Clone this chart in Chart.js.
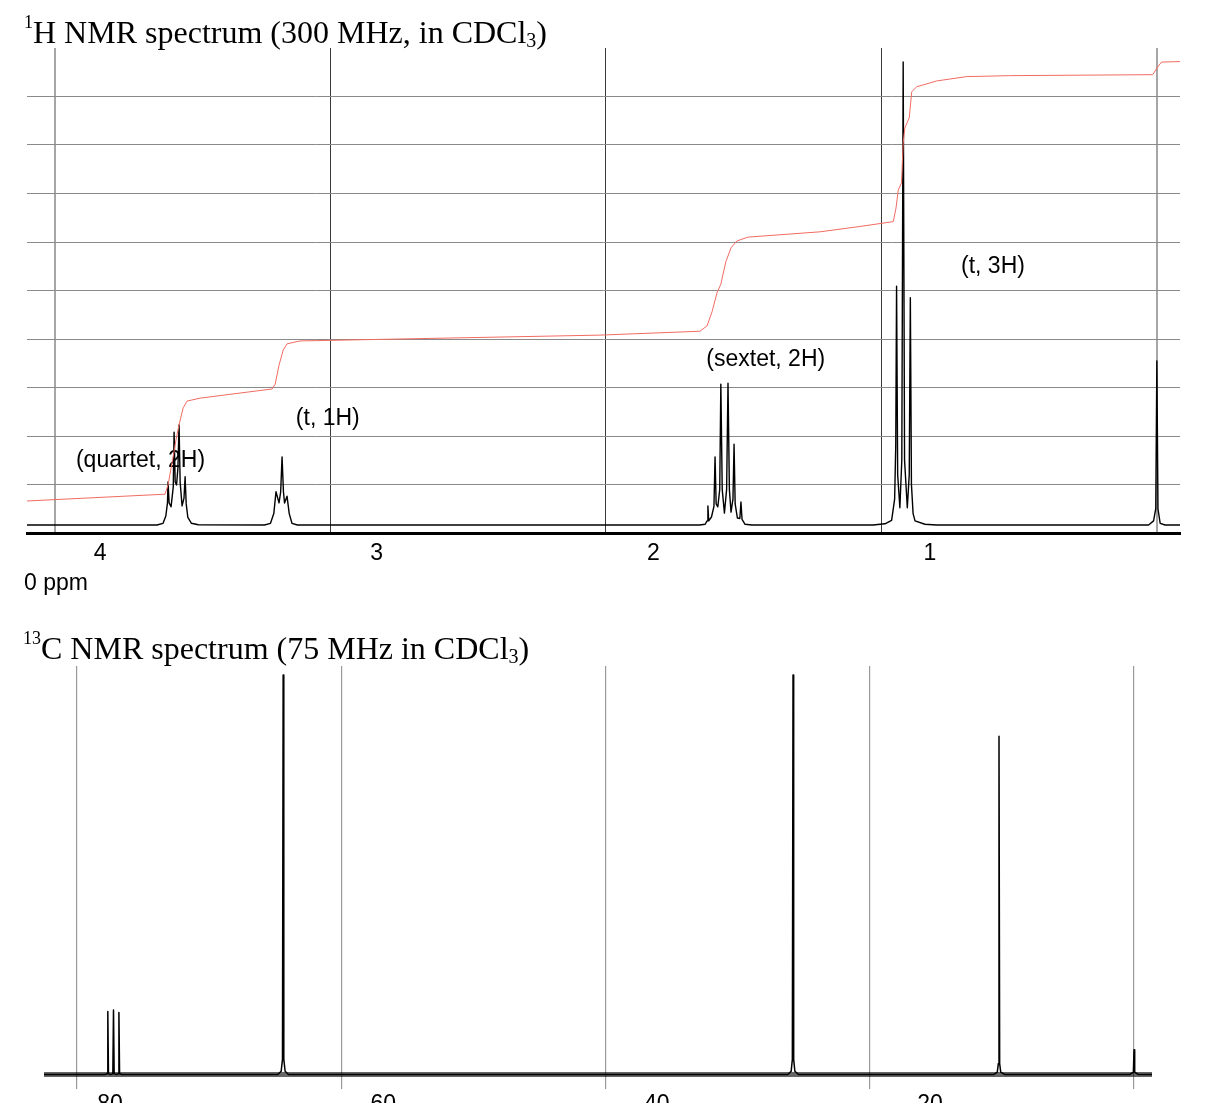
<!DOCTYPE html>
<html>
<head>
<meta charset="utf-8">
<title>NMR spectra</title>
<script src="https://cdn.jsdelivr.net/npm/chart.js@4.4.0/dist/chart.umd.min.js"></script>
<style>
html, body { margin:0; padding:0; background:#fff; overflow:hidden; }
body { width:1223px; height:1103px; position:relative; }
canvas { position:absolute; left:0; }
.ttl { position:absolute; z-index:2; font-family:"Liberation Serif","Times New Roman",serif; font-size:32px; line-height:32px; color:#000; white-space:nowrap; }
.ttl sup { font-size:18px; vertical-align:15px; line-height:0; }
.ttl sub { font-size:20px; vertical-align:-4px; line-height:0; }
</style>
</head>
<body>
<canvas id="hChart" width="1223" height="600" style="top:0"></canvas>
<canvas id="cChart" width="1223" height="540" style="top:600px"></canvas>
<div class="ttl" style="left:24px; top:16px"><sup>1</sup>H NMR spectrum (300 MHz, in CDCl<sub>3</sub>)</div>
<div class="ttl" style="left:23px; top:632px"><sup>13</sup>C NMR spectrum (75 MHz in CDCl<sub>3</sub>)</div>
<script>
// ---- 1H spectrum (ppm, intensity in grid units) ----
var hSpecPpm = [4.102, 3.630, 3.608, 3.598, 3.592, 3.590, 3.586, 3.579, 3.571, 3.568, 3.564, 3.559, 3.554, 3.550, 3.546, 3.539, 3.532, 3.528, 3.524, 3.518, 3.505, 3.480,
	3.240, 3.218, 3.206, 3.198, 3.187, 3.181, 3.176, 3.171, 3.167, 3.158, 3.150, 3.140, 3.120,
	1.660, 1.640, 1.633, 1.630, 1.627, 1.617, 1.608, 1.604, 1.600, 1.594, 1.587, 1.583, 1.578, 1.570, 1.562, 1.557, 1.552, 1.546, 1.539, 1.535, 1.531, 1.523, 1.514, 1.510, 1.506, 1.495, 1.470,
	1.030, 0.987, 0.963, 0.952, 0.948, 0.945, 0.941, 0.933, 0.926, 0.921, 0.916, 0.906, 0.899, 0.895, 0.891, 0.885, 0.878, 0.842, 0.800,
	0.030, 0.012, 0.004, 0.000, -0.004, -0.012, -0.030, -0.084];
var hSpecVal = [0.165, 0.165, 0.20, 0.35, 0.62, 1.05, 0.62, 0.54, 0.95, 2.08, 1.05, 0.99, 1.35, 2.23, 1.05, 0.56, 0.72, 1.16, 0.60, 0.32, 0.20, 0.17,
	0.165, 0.20, 0.40, 0.85, 0.62, 0.85, 1.57, 0.85, 0.62, 0.76, 0.40, 0.20, 0.165,
	0.165, 0.18, 0.25, 0.56, 0.25, 0.33, 0.55, 1.57, 0.60, 0.54, 0.90, 3.07, 0.90, 0.41, 0.90, 3.09, 0.90, 0.43, 0.70, 1.83, 0.60, 0.31, 0.30, 0.64, 0.28, 0.18, 0.165,
	0.165, 0.19, 0.26, 0.70, 1.80, 5.09, 1.20, 0.52, 1.50, 9.71, 1.50, 0.52, 1.20, 4.85, 1.00, 0.40, 0.25, 0.18, 0.165,
	0.165, 0.25, 0.50, 3.55, 0.50, 0.20, 0.165, 0.165];

// integral trace
var hIntPpm = [4.102, 3.601, 3.590, 3.575, 3.561, 3.550, 3.535, 3.521, 3.474, 3.212, 3.201, 3.187, 3.172, 3.158, 3.111, 2.566, 2.022,
	1.659, 1.633, 1.615, 1.597, 1.583, 1.565, 1.546, 1.525, 1.485, 1.223, 1.078, 0.957, 0.947, 0.939, 0.927, 0.921, 0.915, 0.899,
	0.890, 0.872, 0.800, 0.691, 0.534, 0.015, -0.003, -0.017, -0.084];
var hIntVal = [0.66, 0.80, 0.99, 1.46, 1.92, 2.23, 2.58, 2.72, 2.78, 2.97, 3.07, 3.46, 3.77, 3.90, 3.96, 4.02, 4.08,
	4.16, 4.27, 4.56, 4.95, 5.13, 5.59, 5.88, 6.02, 6.10, 6.21, 6.32, 6.42, 6.70, 7.07, 7.22, 8.04, 8.35, 8.56,
	9.10, 9.20, 9.32, 9.41, 9.43, 9.45, 9.61, 9.71, 9.72];

var hTicks = [1, 2, 3, 4];

// ---- 13C spectrum ----
var cSpecPpm = [82.5, 77.9, 77.72, 77.67, 77.62, 77.45, 77.29, 77.24, 77.19, 77.0, 76.88, 76.83, 76.78, 76.6,
	64.8, 64.55, 64.45, 64.40, 64.35, 64.25, 64.0,
	26.2, 25.95, 25.86, 25.81, 25.76, 25.67, 25.4,
	10.6, 10.35, 10.27, 10.22, 10.17, 10.09, 9.8,
	0.3, 0.05, 0.0, -0.05, -0.3, -1.36];
var cSpecVal = [3.44, 3.44, 3.6, 18.3, 3.6, 3.4, 3.6, 18.7, 3.6, 3.4, 3.6, 18.1, 3.6, 3.44,
	3.44, 4.2, 7.0, 97.9, 7.0, 4.2, 3.44,
	3.44, 4.2, 7.0, 97.9, 7.0, 4.2, 3.44,
	3.44, 4.0, 6.0, 83.4, 6.0, 4.0, 3.44,
	3.44, 4.0, 9.3, 4.0, 3.44, 3.44];
var cNoiseLevel = 3.44;

var cTicks = [20, 40, 60, 80];

var sansFont = "'Liberation Sans', Arial, Helvetica, sans-serif";

function toPoints(ppm, val){
	var pts = [];
	for(var k=0;k<ppm.length;k++){
		pts.push({x: ppm[k], y: val[k]});
	}
	return pts;
}

// text notes drawn under the trace, anchored in data coordinates
function makeNotes(notes, caption){
	return {
		id: 'notes',
		beforeDatasetsDraw: function(chart){
			var ctx = chart.ctx, xs = chart.scales.x, ys = chart.scales.y;
			ctx.save();
			ctx.font = '23px ' + sansFont;
			ctx.fillStyle = '#000';
			ctx.textAlign = 'center';
			ctx.textBaseline = 'middle';
			for(var i=0;i<notes.length;i++){
				ctx.fillText(notes[i].text, xs.getPixelForValue(notes[i].ppm), ys.getPixelForValue(notes[i].y));
			}
			ctx.restore();
		},
		afterDraw: function(chart){
			if(!caption) return;
			var ctx = chart.ctx, xl = chart.scales.xl;
			ctx.save();
			ctx.font = '23px ' + sansFont;
			ctx.fillStyle = '#000';
			ctx.textAlign = 'left';
			ctx.textBaseline = 'middle';
			ctx.fillText(caption, chart.chartArea.left - 3, xl.bottom + 10);
			ctx.restore();
		}
	};
}

function labelAxis(min, max, step, pad){
	return {
		type: 'linear', axis: 'x', position: 'bottom', reverse: true,
		min: min, max: max,
		ticks: { stepSize: step, includeBounds: false, padding: pad, color: '#000', maxRotation: 0, autoSkip: false,
			font: { family: sansFont, size: 23, lineHeight: 1 } },
		grid: { display: false, drawTicks: false },
		border: { display: false }
	};
}

var hNotes = [
	{ text: '(quartet, 2H)', ppm: 3.69, y: 1.5 },
	{ text: '(t, 1H)', ppm: 3.01, y: 2.35 },
	{ text: '(sextet, 2H)', ppm: 1.42, y: 3.57 },
	{ text: '(t, 3H)', ppm: 0.595, y: 5.5 }
];

var hChart = new Chart(document.getElementById('hChart'), {
	type: 'line',
	data: {
		datasets: [
			{ label: 'integral', data: toPoints(hIntPpm, hIntVal), xAxisID: 'x', yAxisID: 'y',
			  borderColor: '#f26b62', borderWidth: 1, pointRadius: 0, tension: 0 },
			{ label: '1H', data: toPoints(hSpecPpm, hSpecVal), xAxisID: 'x', yAxisID: 'y',
			  borderColor: '#000', borderWidth: 1.4, borderJoinStyle: 'round', pointRadius: 0, tension: 0 }
		]
	},
	options: {
		responsive: false,
		animation: false,
		devicePixelRatio: 1,
		layout: { padding: { left: 27, right: 43, top: 48, bottom: 26 } },
		plugins: { legend: { display: false }, tooltip: { enabled: false } },
		scales: {
			x: {
				type: 'linear', position: 'bottom', reverse: true, min: -0.084, max: 4.102,
				ticks: { display: false, stepSize: 1, includeBounds: false },
				grid: {
					drawTicks: false,
					color: function(c){ return (c.tick && (c.tick.value === 4 || c.tick.value === 0)) ? '#a6a6a6' : '#3a3a3a'; },
					lineWidth: function(c){ return (c.tick && (c.tick.value === 4 || c.tick.value === 0)) ? 2 : 1; }
				},
				border: { display: true, color: '#000', width: 3 }
			},
			xl: labelAxis(0.096, 4.264, 1, 9),
			y: {
				min: 0, max: 10,
				ticks: { display: false, stepSize: 1 },
				grid: {
					drawTicks: false,
					color: function(c){ return (c.tick && (c.tick.value === 0 || c.tick.value === 10)) ? 'rgba(0,0,0,0)' : '#8a8a8a'; }
				},
				border: { display: false }
			}
		}
	},
	plugins: [makeNotes(hNotes, '0 ppm')]
});

var cChart = new Chart(document.getElementById('cChart'), {
	type: 'line',
	data: {
		datasets: [
			{ label: 'noise', data: [{x: cSpecPpm[0], y: cNoiseLevel}, {x: cSpecPpm[cSpecPpm.length - 1], y: cNoiseLevel}],
			  xAxisID: 'x', yAxisID: 'y', borderColor: 'rgba(0,0,0,0.6)', borderWidth: 5, pointRadius: 0 },
			{ label: '13C', data: toPoints(cSpecPpm, cSpecVal), xAxisID: 'x', yAxisID: 'y',
			  borderColor: '#000', borderWidth: 1.5, borderJoinStyle: 'round', pointRadius: 0, tension: 0 }
		]
	},
	options: {
		responsive: false,
		animation: false,
		devicePixelRatio: 1,
		layout: { padding: { left: 44, right: 71, top: 66, bottom: 20 } },
		plugins: { legend: { display: false }, tooltip: { enabled: false } },
		scales: {
			x: {
				type: 'linear', position: 'bottom', reverse: true, min: -1.36, max: 82.5,
				ticks: { display: false, stepSize: 20, includeBounds: false },
				grid: { drawTicks: false, color: '#9a9a9a', lineWidth: 1.2 },
				border: { display: false }
			},
			xl: labelAxis(3.76, 84.83, 20, 4),
			y: { display: false, min: 0, max: 100 }
		}
	}
});
</script>
</body>
</html>
